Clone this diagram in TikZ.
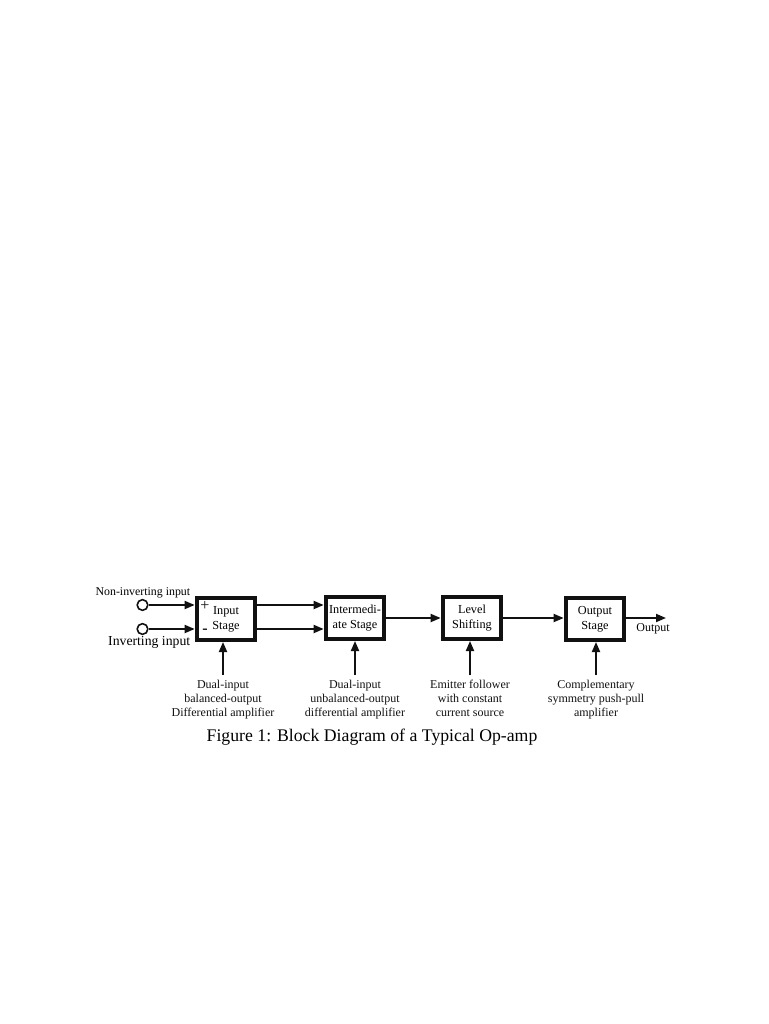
\documentclass[tikz,border=0pt]{standalone}
\usepackage{fontspec}
\setmainfont{Liberation Serif}
\usetikzlibrary{arrows.meta, positioning, calc}
\definecolor{cink}{HTML}{111111}
\tikzset{
  every picture/.style={line width=1.2pt},
  stage/.style={draw=cink, line width=3pt, align=center, minimum width=44pt, minimum height=31.5pt, inner sep=0pt, font=\fontsize{9.2}{11}\selectfont},
  arrow/.style={-{Triangle[length=7.5pt, width=6pt]}, draw=cink, line width=1.4pt},
  note/.style={font=\fontsize{9}{10.5}\selectfont, text=cink, align=center, anchor=north, inner sep=3pt},
  port/.style={circle, draw=cink, line width=1.2pt, minimum size=8pt, inner sep=0pt},
  sign/.style={font=\fontsize{12}{13}\selectfont, text=cink, inner sep=0pt},
}

\begin{document}
\begin{tikzpicture}[x=0.75pt, y=-0.75pt]
  \useasboundingbox (0,0) rectangle (768,1024);
  % the four stages
  \node[stage] (inp) at (226,619) {Input\\Stage};
  \node[stage] (mid) at (355,618) {Intermedi-\\ate Stage};
  \node[stage] (lvl) at (472,618) {Level\\Shifting};
  \node[stage] (out) at (595,619) {Output\\Stage};
  % inputs
  \node[port] (ni) at (142.5,605) {};
  \node[port] (ii) at (142.5,629) {};
  \node[anchor=east, inner sep=0pt, font=\fontsize{8.9}{10}\selectfont] (nilab) at (191,593) {Non-inverting input};
  \node[anchor=east, inner sep=0pt, font=\fontsize{10.3}{11}\selectfont] (iilab) at (191,642) {Inverting input};
  \node[sign] (plus) at (205,606) {+};
  \node[sign] (minus) at (205,631) {\textbf{-}};
  \draw[arrow] (ni.east) -- (ni.east -| inp.west);
  \draw[arrow] (ii.east) -- (ii.east -| inp.west);
  % signal path
  \draw[arrow] (inp.east |- ni) -- (mid.west |- ni);
  \draw[arrow] (inp.east |- ii) -- (mid.west |- ii);
  \draw[arrow] (mid) -- (lvl);
  \draw[arrow] (lvl.east) -- (lvl.east -| out.west);
  \coordinate (outend) at (666,618);
  \draw[arrow] (out.east |- outend) -- (outend);
  \node[font=\fontsize{9}{10}\selectfont] (outlab) at (653,629) {Output};
  % what each stage is
  \node[note] (inpnote) at (223,675) {Dual-input\\balanced-output\\Differential amplifier};
  \node[note] (midnote) at (355,675) {Dual-input\\unbalanced-output\\differential amplifier};
  \node[note] (lvlnote) at (470,675) {Emitter follower\\with constant\\current source};
  \node[note] (outnote) at (596,675) {Complementary\\symmetry push-pull\\amplifier};
  \draw[arrow] (inpnote.north) -- (inpnote.north |- inp.south);
  \draw[arrow] (midnote.north) -- (midnote.north |- mid.south);
  \draw[arrow] (lvlnote.north) -- (lvlnote.north |- lvl.south);
  \draw[arrow] (outnote.north) -- (outnote.north |- out.south);
  % caption
  \node[font=\fontsize{13.3}{16}\selectfont] (caption) at (372,737) {Figure 1: Block Diagram of a Typical Op-amp};
\end{tikzpicture}
\end{document}
